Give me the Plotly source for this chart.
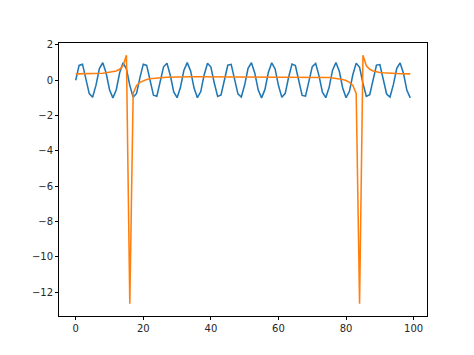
import plotly.graph_objects as go

x_vals = list(range(100))

blue_vals = [
    0.00, 0.84, 0.91, 0.14, -0.76, -0.96, -0.28, 0.66, 0.99, 0.41,
    -0.54, -1.00, -0.54, 0.42, 0.99, 0.65, -0.29, -0.96, -0.75, 0.15,
    0.91, 0.84, -0.01, -0.85, -0.91, -0.13, 0.76, 0.96, 0.27, -0.66,
    -0.99, -0.40, 0.55, 1.00, 0.53, -0.43, -0.99, -0.64, 0.30, 0.96,
    0.75, -0.16, -0.92, -0.83, 0.02, 0.85, 0.90, 0.12, -0.77, -0.95,
    -0.26, 0.67, 0.99, 0.40, -0.56, -1.00, -0.52, 0.44, 0.99, 0.64,
    -0.30, -0.97, -0.74, 0.17, 0.92, 0.83, -0.03, -0.86, -0.90, -0.11,
    0.77, 0.95, 0.25, -0.68, -0.99, -0.39, 0.57, 1.00, 0.51, -0.44,
    -0.99, -0.63, 0.31, 0.97, 0.73, -0.18, -0.92, -0.82, 0.04, 0.86,
    0.89, 0.11, -0.78, -0.95, -0.25, 0.68, 0.98, 0.38, -0.57, -1.00,
]

orange_vals = [
    0.36, 0.36, 0.37, 0.37, 0.37, 0.38, 0.38, 0.39, 0.40, 0.42,
    0.44, 0.47, 0.52, 0.62, 0.82, 1.41, -12.66, -0.75, -0.30, -0.12,
    -0.02, 0.04, 0.08, 0.11, 0.13, 0.15, 0.16, 0.17, 0.18, 0.18,
    0.19, 0.19, 0.19, 0.19, 0.20, 0.20, 0.20, 0.20, 0.20, 0.20,
    0.20, 0.20, 0.20, 0.20, 0.20, 0.20, 0.20, 0.20, 0.20, 0.20,
    0.20, 0.20, 0.20, 0.20, 0.20, 0.20, 0.20, 0.20, 0.20, 0.20,
    0.20, 0.20, 0.20, 0.20, 0.20, 0.20, 0.20, 0.19, 0.19, 0.19,
    0.19, 0.18, 0.18, 0.17, 0.16, 0.15, 0.13, 0.11, 0.08, 0.04,
    -0.02, -0.12, -0.30, -0.75, -12.66, 1.41, 0.82, 0.62, 0.52, 0.47,
    0.44, 0.42, 0.40, 0.39, 0.38, 0.38, 0.37, 0.37, 0.37, 0.36,
]

x_ticks = [0, 20, 40, 60, 80, 100]
y_ticks = [-12, -10, -8, -6, -4, -2, 0, 2]

fig = go.Figure()
fig.add_trace(go.Scatter(x=x_vals, y=blue_vals, mode="lines",
                         line=dict(color="#1f77b4", width=1.55)))
fig.add_trace(go.Scatter(x=x_vals, y=orange_vals, mode="lines",
                         line=dict(color="#ff7f0e", width=1.55)))

axis_common = dict(showgrid=False, zeroline=False, showline=True, mirror=True,
                   linecolor="#000000", linewidth=0.8, ticks="outside",
                   ticklen=3, tickwidth=0.8, tickcolor="#000000",
                   tickfont=dict(family="DejaVu Sans", size=10, color="#262626"))

fig.update_layout(
    width=474, height=355,
    margin=dict(l=59, r=47, t=43, b=39),
    paper_bgcolor="white", plot_bgcolor="white",
    showlegend=False,
    xaxis=dict(range=[-4.95, 103.95], tickvals=x_ticks, **axis_common),
    yaxis=dict(range=[-13.36, 2.11], tickvals=y_ticks, **axis_common),
)

fig.write_html("out.html")
